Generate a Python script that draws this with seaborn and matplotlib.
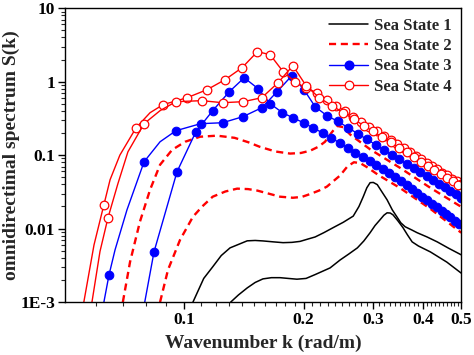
import matplotlib
matplotlib.use("Agg")
import matplotlib.pyplot as plt
from matplotlib.lines import Line2D
from matplotlib.ticker import FixedLocator, FixedFormatter, LogLocator, NullFormatter
import numpy as np
import seaborn as sns

# ---- data (k in rad/m, S(k)) ----
ss1a_k = [0.1052, 0.112, 0.118, 0.124, 0.1305, 0.1442, 0.151, 0.158, 0.168, 0.1776,
          0.187, 0.196, 0.205, 0.214, 0.225, 0.2375, 0.252, 0.267, 0.276, 0.283,
          0.289, 0.2945, 0.300, 0.307, 0.315, 0.325, 0.335, 0.344, 0.352, 0.361,
          0.375, 0.387, 0.41, 0.435, 0.465, 0.5]
ss1a_s = [0.001, 0.0021, 0.00302, 0.0043, 0.00547, 0.00682, 0.0069, 0.0068, 0.0066, 0.00644,
          0.0065, 0.0067, 0.0072, 0.0077, 0.0088, 0.0103, 0.0122, 0.0148, 0.020, 0.0272,
          0.036, 0.0422, 0.0425, 0.0397, 0.032, 0.0247, 0.018, 0.0145, 0.012, 0.0106,
          0.0096, 0.0088, 0.0077, 0.0066, 0.0054, 0.0044]

ss1b_k = [0.131, 0.137, 0.1442, 0.151, 0.158, 0.166, 0.1745, 0.183, 0.1925, 0.203,
          0.214, 0.2334, 0.2475, 0.26, 0.2735, 0.284, 0.2945, 0.303, 0.312, 0.319,
          0.325, 0.331, 0.3364, 0.346, 0.3565, 0.366, 0.376, 0.39, 0.418, 0.46, 0.5]
ss1b_s = [0.001, 0.00125, 0.00156, 0.00185, 0.00207, 0.00215, 0.00215, 0.0021, 0.00205, 0.0021,
          0.00237, 0.00292, 0.00375, 0.0045, 0.00547, 0.0068, 0.0088, 0.011, 0.0132, 0.0152,
          0.0164, 0.0163, 0.0154, 0.0128, 0.0103, 0.0082, 0.0066, 0.0058, 0.00482, 0.0035, 0.00248]

ss2a_k = [0.070, 0.0730, 0.0773, 0.0820, 0.0869, 0.0932, 0.1005, 0.1096, 0.121, 0.134,
          0.145, 0.155, 0.17, 0.185, 0.197, 0.208, 0.218, 0.2266, 0.235, 0.243,
          0.252, 0.2625, 0.2945, 0.350, 0.418, 0.500]
ss2a_s = [0.001, 0.00353, 0.0124, 0.0338, 0.074, 0.118, 0.152, 0.178, 0.184, 0.172,
          0.15, 0.130, 0.112, 0.105, 0.107, 0.115, 0.13, 0.152, 0.2, 0.25,
          0.24, 0.19, 0.12, 0.0674, 0.0359, 0.0198]

ss2b_k = [0.0869, 0.091, 0.0976, 0.1052, 0.111, 0.118, 0.127, 0.136, 0.145, 0.153,
          0.1745, 0.188, 0.198, 0.208, 0.219, 0.229, 0.2475, 0.258, 0.268, 0.278,
          0.29, 0.31, 0.350, 0.418, 0.500]
ss2b_s = [0.001, 0.00275, 0.00703, 0.0145, 0.02, 0.0272, 0.032, 0.035, 0.0345, 0.0329,
          0.0272, 0.0263, 0.027, 0.0296, 0.033, 0.0372, 0.053, 0.07, 0.08, 0.078,
          0.068, 0.053, 0.0359, 0.0186, 0.0088]

ss3a_k = [0.0627, 0.0646, 0.0669, 0.0717, 0.0792, 0.0869, 0.0953, 0.110, 0.125, 0.1407,
          0.157, 0.1716, 0.187, 0.2005, 0.214, 0.229, 0.244, 0.259, 0.274, 0.289,
          0.304, 0.319, 0.334, 0.349, 0.364, 0.379, 0.394, 0.409, 0.424, 0.439,
          0.454, 0.469, 0.484, 0.499]
ss3a_s = [0.001, 0.00235, 0.00514, 0.018, 0.0813, 0.152, 0.215, 0.268, 0.276, 0.334,
          0.442, 0.731, 1.21, 0.778, 0.456, 0.345, 0.289, 0.237, 0.196, 0.164,
          0.139, 0.118, 0.101, 0.0874, 0.076, 0.0664, 0.0583, 0.0515, 0.0456, 0.0406,
          0.0363, 0.0325, 0.0293, 0.0264]

ss3b_k = [0.0795, 0.0839, 0.0959, 0.107, 0.118, 0.130, 0.1417, 0.1536, 0.1647, 0.177,
          0.188, 0.200, 0.2117, 0.2234, 0.235, 0.247, 0.2585, 0.270, 0.282, 0.294,
          0.305, 0.317, 0.329, 0.340, 0.352, 0.364, 0.375, 0.387, 0.399, 0.410,
          0.422, 0.434, 0.446, 0.457, 0.469, 0.481, 0.493]
ss3b_s = [0.001, 0.00483, 0.0594, 0.208, 0.403, 0.731, 1.13, 0.803, 0.502, 0.378,
          0.323, 0.276, 0.234, 0.201, 0.171, 0.147, 0.1256, 0.1086, 0.0942, 0.082,
          0.073, 0.0646, 0.0563, 0.0499, 0.0446, 0.0394, 0.0349, 0.0307, 0.0271, 0.0248,
          0.0217, 0.0194, 0.0174, 0.0159, 0.0142, 0.0127, 0.0114]

ss4a_k = [0.0558, 0.0592, 0.0627, 0.0650, 0.0688, 0.0756, 0.0820, 0.0884, 0.1017, 0.1142,
          0.1268, 0.140, 0.153, 0.1647, 0.1776, 0.190, 0.203, 0.216, 0.229, 0.242,
          0.254, 0.267, 0.280, 0.293, 0.306, 0.319, 0.332, 0.345, 0.358, 0.371,
          0.384, 0.396, 0.409, 0.422, 0.435, 0.448, 0.461, 0.474, 0.487, 0.500]
ss4a_s = [0.001, 0.0060, 0.0211, 0.0463, 0.100, 0.236, 0.378, 0.486, 0.605, 0.778,
          1.065, 1.55, 2.56, 2.33, 1.37, 1.0, 0.82, 0.71, 0.57, 0.47,
          0.40, 0.335, 0.285, 0.245, 0.212, 0.184, 0.160, 0.141, 0.124, 0.110,
          0.098, 0.088, 0.079, 0.071, 0.064, 0.058, 0.053, 0.048, 0.044, 0.040]

ss4b_k = [0.0585, 0.0613, 0.0642, 0.068, 0.0721, 0.0792, 0.0869, 0.0953, 0.1108, 0.125,
          0.141, 0.157, 0.1725, 0.188, 0.203, 0.219, 0.236, 0.252, 0.268, 0.284,
          0.300, 0.316, 0.332, 0.348, 0.364, 0.380, 0.396, 0.412, 0.428, 0.444,
          0.460, 0.476, 0.492]
ss4b_s = [0.001, 0.0049, 0.014, 0.0407, 0.111, 0.268, 0.403, 0.534, 0.551, 0.517,
          0.534, 0.605, 0.969, 1.65, 0.882, 0.605, 0.471, 0.378, 0.307, 0.252,
          0.210, 0.176, 0.149, 0.127, 0.109, 0.0942, 0.0819, 0.0717, 0.0630, 0.0556,
          0.0494, 0.0440, 0.0394]

legend_labels = ["Sea State 1", "Sea State 2", "Sea State 3", "Sea State 4"]
y_tick_vals = [1e-3, 1e-2, 1e-1, 1, 10]
y_tick_labels = ["1E-3", "0.01", "0.1", "1", "10"]
x_tick_vals = [0.1, 0.2, 0.3, 0.4, 0.5]
x_tick_labels = ["0.1", "0.2", "0.3", "0.4", "0.5"]

sns.set_style("ticks")
plt.rcParams["font.family"] = ["Liberation Serif", "DejaVu Serif"]
plt.rcParams["font.weight"] = "bold"

RED = "#ff0000"
BLUE = "#0000ff"

fig = plt.figure(figsize=(4.74, 3.55), dpi=100)
ax = fig.add_axes([0.137, 0.149, 0.836, 0.828])

line_kw = dict(ax=ax, estimator=None, sort=False, legend=False)

sns.lineplot(x=ss1a_k, y=ss1a_s, color="black", lw=1.1, **line_kw)
sns.lineplot(x=ss1b_k, y=ss1b_s, color="black", lw=1.1, **line_kw)

for kk, ss in [(ss2a_k, ss2a_s), (ss2b_k, ss2b_s)]:
    l = sns.lineplot(x=kk, y=ss, color=RED, lw=1.7, **line_kw).lines[-1]
    l.set_dashes((3, 2))

# unmarked helper points at the steep foot of each curve are skipped by markevery
blue_kw = dict(color=BLUE, lw=1.0, marker="o", markersize=6.2,
               markerfacecolor=BLUE, markeredgecolor=BLUE)
sns.lineplot(x=ss3a_k, y=ss3a_s, markevery=[1, 4] + list(range(6, len(ss3a_k))),
             **blue_kw, **line_kw)
sns.lineplot(x=ss3b_k, y=ss3b_s, markevery=list(range(1, len(ss3b_k))),
             **blue_kw, **line_kw)

red_kw = dict(color=RED, lw=1.0, marker="o", markersize=6.2,
              markerfacecolor="white", markeredgecolor=RED, markeredgewidth=0.9)
sns.lineplot(x=ss4a_k, y=ss4a_s, markevery=[2, 5] + list(range(7, len(ss4a_k))),
             **red_kw, **line_kw)
sns.lineplot(x=ss4b_k, y=ss4b_s, markevery=[2, 5] + list(range(7, len(ss4b_k))),
             **red_kw, **line_kw)

ax.set_xscale("log")
ax.set_yscale("log")
ax.set_xlim(0.05, 0.5)
ax.set_ylim(1e-3, 10)

ax.xaxis.set_major_locator(FixedLocator(x_tick_vals))
ax.xaxis.set_major_formatter(FixedFormatter(x_tick_labels))
minor_x = [round(v, 2) for v in np.arange(0.06, 0.5, 0.01) if round(v * 10, 3) % 1 != 0]
ax.xaxis.set_minor_locator(FixedLocator(minor_x))
ax.xaxis.set_minor_formatter(NullFormatter())

ax.yaxis.set_major_locator(FixedLocator(y_tick_vals))
ax.yaxis.set_major_formatter(FixedFormatter(y_tick_labels))
ax.yaxis.set_minor_locator(LogLocator(base=10, subs=np.arange(2, 10)))
ax.yaxis.set_minor_formatter(NullFormatter())

ax.tick_params(which="major", direction="out", length=5, width=1.0, labelsize=12.5,
               colors="black", pad=2)
ax.tick_params(which="minor", direction="out", length=3, width=0.8)
for sp in ax.spines.values():
    sp.set_linewidth(1.0)
    sp.set_color("black")

ax.set_xlabel("Wavenumber k (rad/m)", fontsize=14, fontweight="bold", labelpad=5)
ax.set_ylabel("omnidirectimal spectrum S(k)", fontsize=14, fontweight="bold", labelpad=0)

handles = [
    Line2D([], [], color="black", lw=1.1),
    Line2D([], [], color=RED, lw=1.7, dashes=(3, 2)),
    Line2D([], [], **blue_kw),
    Line2D([], [], **red_kw),
]
ax.legend(handles, legend_labels, loc="upper right", frameon=False, fontsize=12,
          handlelength=2.3, handletextpad=0.35, labelspacing=0.25,
          borderaxespad=0.2, borderpad=0.4)

fig.savefig("out.png", dpi=100)
